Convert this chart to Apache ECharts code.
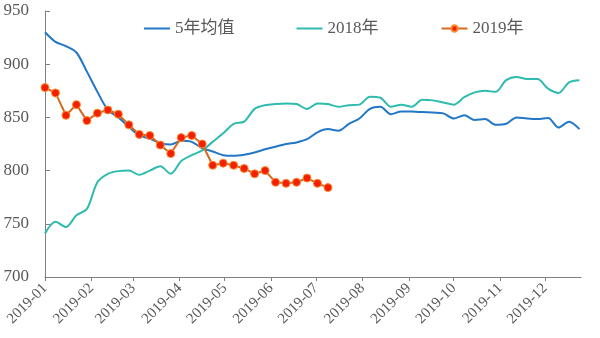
<!DOCTYPE html>
<html>
<head>
<meta charset="utf-8">
<script src="https://cdn.jsdelivr.net/npm/echarts@6/dist/echarts.min.js"></script>
<style>html,body{margin:0;padding:0;background:#fff}#c{width:600px;height:338px}</style>
</head>
<body>
<div id="c"></div>
<script>
var weekDates = [
  '2019-01-01','2019-01-08','2019-01-15','2019-01-22','2019-01-29',
  '2019-02-05','2019-02-12','2019-02-19','2019-02-26',
  '2019-03-05','2019-03-12','2019-03-19','2019-03-26',
  '2019-04-02','2019-04-09','2019-04-16','2019-04-23','2019-04-30',
  '2019-05-07','2019-05-14','2019-05-21','2019-05-28',
  '2019-06-04','2019-06-11','2019-06-18','2019-06-25',
  '2019-07-02','2019-07-09','2019-07-16','2019-07-23','2019-07-30',
  '2019-08-06','2019-08-13','2019-08-20','2019-08-27',
  '2019-09-03','2019-09-10','2019-09-17','2019-09-24',
  '2019-10-01','2019-10-08','2019-10-15','2019-10-22','2019-10-29',
  '2019-11-05','2019-11-12','2019-11-19','2019-11-26',
  '2019-12-03','2019-12-10','2019-12-17','2019-12-24'
];
var avg5 = [930,921,917,911,893,874,857,850,841,833,830,826,824.5,828,827,821,818,814.5,814,815,817,820,822.5,825,826.5,829.5,836,839,837.5,844,849,858,860,853,855.5,855.5,855,854.5,853.8,849,852,847.6,848.5,843,844,850,849,848.5,849.5,840.5,846,839];
var y2018 = [741,752,747,758,764,789,797,799.5,800,796,800,804,797,809,814.5,819,827,835,844,846,858,861.5,862.5,863,862.5,858,863,862.5,860,861.5,862,869.5,868.5,860,862,860,866.5,866,864,862,869,873.5,875,874,885,888,886,886,877,873,883,885];
var y2019 = [878,873,852,862,847,854,857,853,843,834,833,824,816,831,833,825,805,807,805,802,797,800,789,788,789,793,788,784];
var yTicks = {min:700, max:950, interval:50};
var names = ['5年均值','2018年','2019年'];

function pairs(vals){ return vals.map(function(v,i){ return [weekDates[i], v]; }); }

var lineIcon = 'path://M0,0H26V2H0Z';
var font = '"Liberation Serif","Noto Sans CJK SC",serif';
var chart = echarts.init(document.getElementById('c'), null, {renderer:'canvas'});
chart.setOption({
  animation:false,
  textStyle:{fontFamily:font},
  legend:{
    left:139, top:15, itemWidth:26, itemHeight:8, itemGap:62, symbolKeepAspect:true,
    textStyle:{fontFamily:font, fontSize:17, color:'#595959'},
    data:[{name:names[0], icon:lineIcon},{name:names[1], icon:lineIcon},{name:names[2]}]
  },
  grid:{left:45, right:19, top:11, bottom:61, containLabel:false},
  xAxis:{
    type:'time', min:'2019-01-01', max:'2019-12-25',
    splitNumber:12, minInterval:28*86400000, maxInterval:31*86400000,
    axisLine:{lineStyle:{color:'#808080', width:1}},
    axisTick:{show:true, inside:false, length:4, lineStyle:{color:'#808080'}},
    splitLine:{show:false}, minorTick:{show:false},
    axisLabel:{
      rotate:45, fontSize:15, color:'#595959', fontFamily:font, margin:9,
      formatter:function(v){ return echarts.time.format(v,'{yyyy}-{MM}',false); }
    }
  },
  yAxis:{
    type:'value', min:yTicks.min, max:yTicks.max, interval:yTicks.interval,
    axisLine:{show:true, lineStyle:{color:'#808080', width:1}},
    axisTick:{show:true, inside:true, length:5, lineStyle:{color:'#808080'}},
    splitLine:{show:false},
    axisLabel:{fontSize:17, color:'#595959', fontFamily:font, margin:16}
  },
  series:[
    {name:names[0], type:'line', data:pairs(avg5), smooth:0.3, symbol:'none',
     lineStyle:{color:'#2277C6', width:2}, itemStyle:{color:'#2277C6'}},
    {name:names[1], type:'line', data:pairs(y2018), smooth:0.3, symbol:'none',
     lineStyle:{color:'#2FBBAE', width:2}, itemStyle:{color:'#2FBBAE'}},
    {name:names[2], type:'line', data:pairs(y2019), symbol:'circle', symbolSize:8,
     lineStyle:{color:'#D46A1E', width:2},
     itemStyle:{color:'#F02000', borderColor:'#FF8A30', borderWidth:1}}
  ]
});
</script>
</body>
</html>
